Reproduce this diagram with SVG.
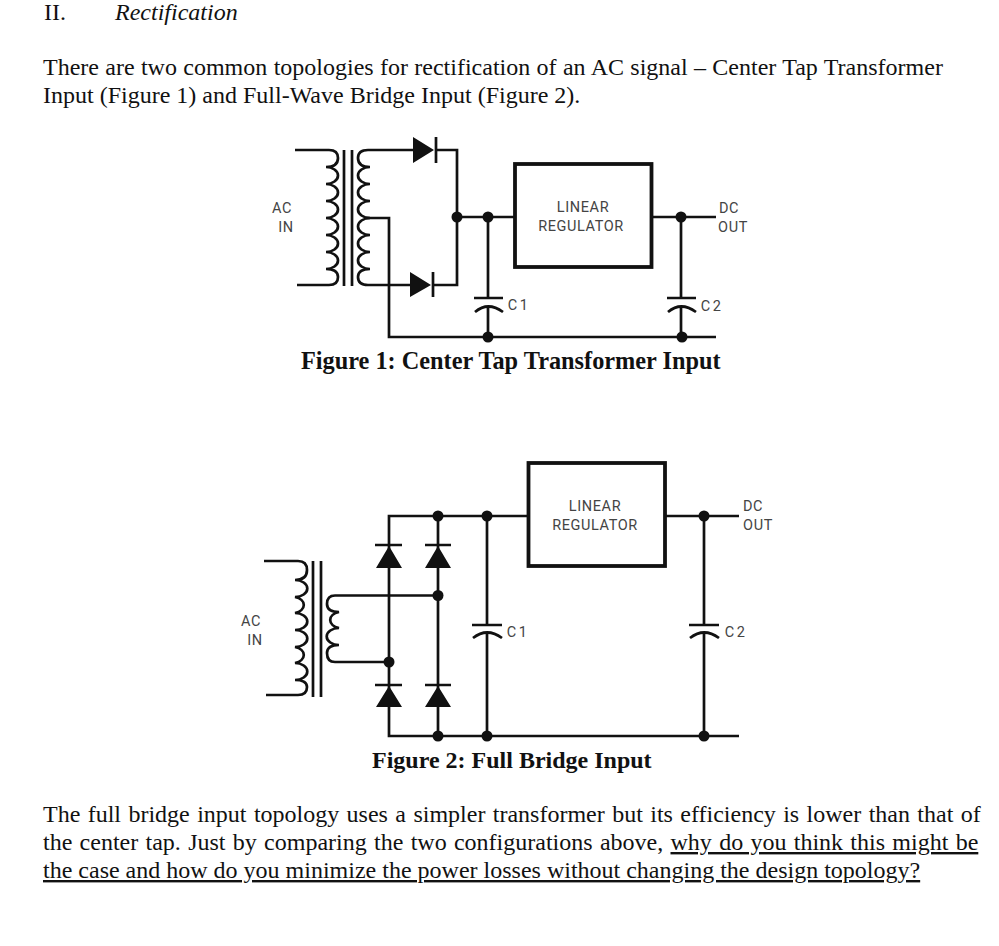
<svg xmlns="http://www.w3.org/2000/svg" width="999" height="946" viewBox="0 0 999 946">
<style>
.t{font-family:"Liberation Serif","Times New Roman",serif;font-size:24px;fill:#111}
.b{font-weight:bold}
.l{font-family:Roboto,"Liberation Sans",Arial,sans-serif;font-size:14.500px;fill:#444;text-anchor:middle;letter-spacing:.6px}
.w{fill:none;stroke:#111;stroke-width:2.700}
.box{fill:#fff;stroke:#111;stroke-width:3.800}
.d{fill:#111}
</style>
<rect width="999" height="946" fill="#fff"/>
<g id="text">
<text class="t" x="44" y="20">II.</text>
<text class="t" x="115" y="20" font-style="italic">Rectification</text>
<text class="t" x="43" y="75" word-spacing=".35">There are two common topologies for rectification of an AC signal – Center Tap Transformer</text>
<text class="t" x="43" y="103">Input (Figure 1) and Full-Wave Bridge Input (Figure 2).</text>
<text class="t b" x="301" y="369" style="font-size:24.300px">Figure 1: Center Tap Transformer Input</text>
<text class="t b" x="372" y="768">Figure 2: Full Bridge Input</text>
<text class="t" x="43" y="822" word-spacing="1.400">The full bridge input topology uses a simpler transformer but its efficiency is lower than that of</text>
<text class="t" x="43" y="850" word-spacing="1.300">the center tap. Just by comparing the two configurations above, <tspan text-decoration="underline">why do you think this might be</tspan></text>
<text class="t" x="43" y="878" text-decoration="underline">the case and how do you minimize the power losses without changing the design topology?</text>
</g>
<g id="connectors">
<path class="w" d="M295 150H329Q338 150 338 158Q338 167 326 167A12 8.500 0 0 1 326 184A12 8.500 0 0 1 326 201A12 8.500 0 0 1 326 218A12 8.500 0 0 1 326 235A12 8.500 0 0 1 326 252A12 8.500 0 0 1 326 269Q338 269 338 277Q338 285 329 285H297"/>
<path class="w" d="M344 150V286M352 150V286"/>
<path class="w" d="M436 150H457V285H433M413 150H368Q358 150 358 158Q358 167 370 167A12 8.500 0 0 0 370 184A12 8.500 0 0 0 370 201A12 8.500 0 0 0 370 218A12 8.500 0 0 0 370 235A12 8.500 0 0 0 370 252A12 8.500 0 0 0 370 269Q358 269 358 277Q358 285 368 285H410"/>
<path class="w" d="M366 218H389V337H716M457 217H515M652 217H716M488 217V298M488 306V337M681 217V298M681 306V337"/>
<path class="w" d="M436 137V163M433 272V297M474 298H503M667 298H696M475 312Q488 301 503 312M668 312Q681 301 696 312"/>
<path class="w" d="M264 561H298Q307 561 307 570Q307 580 295 580A12 8.300 0 0 1 295 597A12 8.300 0 0 1 295 613A12 8.300 0 0 1 295 630A12 8.300 0 0 1 295 647A12 8.300 0 0 1 295 663A12 8.300 0 0 1 295 680Q307 680 307 687Q307 695 298 695H266"/>
<path class="w" d="M313 561V697M321 561V697"/>
<path class="w" d="M438 595.500H335Q327 595.500 327 604Q327 612 339 612A12 8.300 0 0 0 339 628A12 8.300 0 0 0 339 645Q327 645 327 653Q327 662 335 662H389"/>
<path class="w" d="M739 516H389V736H739M438 516V736M487 516V625M487 632V736M704 516V625M704 632V736"/>
<path class="w" d="M375 545H402M425 545H451M375 685H402M425 685H451M472 625H502M689 625H719M473 638Q487 627 502 638M690 638Q704 627 719 638"/>
</g>
<g id="diodes">
<path class="d" d="M413 137V163L434 150ZM410 272V297L431 285Z"/>
<path class="d" d="M389 546L376 568H402ZM438 546L425 568H451ZM389 686L376 707H402ZM438 686L425 707H451Z"/>
</g>
<g id="dots">
<circle class="d" cx="457" cy="217" r="5.500"/><circle class="d" cx="488" cy="217" r="5.500"/><circle class="d" cx="681" cy="217" r="5.500"/><circle class="d" cx="488" cy="337" r="5.500"/><circle class="d" cx="682" cy="337" r="5.500"/>
<circle class="d" cx="438" cy="516" r="5.500"/><circle class="d" cx="487" cy="516" r="5.500"/><circle class="d" cx="704" cy="516" r="5.500"/><circle class="d" cx="438" cy="595.500" r="5.500"/><circle class="d" cx="389" cy="662" r="5.500"/><circle class="d" cx="438" cy="736" r="5.500"/><circle class="d" cx="487" cy="736" r="5.500"/><circle class="d" cx="704" cy="736" r="5.500"/>
</g>
<g id="regulator-1"><rect class="box" x="515" y="164" width="136.500" height="103"/>
<text class="l" x="583" y="212">LINEAR</text><text class="l" x="581" y="231">REGULATOR</text></g>
<g id="regulator-2"><rect class="box" x="528.500" y="463" width="136.500" height="103"/>
<text class="l" x="595" y="511">LINEAR</text><text class="l" x="595" y="530">REGULATOR</text></g>
<g id="labels">
<text class="l" x="282" y="213">AC</text><text class="l" x="286" y="232">IN</text>
<text class="l" x="729" y="213">DC</text><text class="l" x="733" y="232">OUT</text>
<text class="l" x="519" y="310" style="letter-spacing:2.500px">C1</text><text class="l" x="712" y="311" style="letter-spacing:2.500px">C2</text>
<text class="l" x="251" y="626">AC</text><text class="l" x="255" y="645">IN</text>
<text class="l" x="753" y="511">DC</text><text class="l" x="758" y="530">OUT</text>
<text class="l" x="518" y="637" style="letter-spacing:2.500px">C1</text><text class="l" x="736" y="637" style="letter-spacing:2.500px">C2</text>
</g>
</svg>
